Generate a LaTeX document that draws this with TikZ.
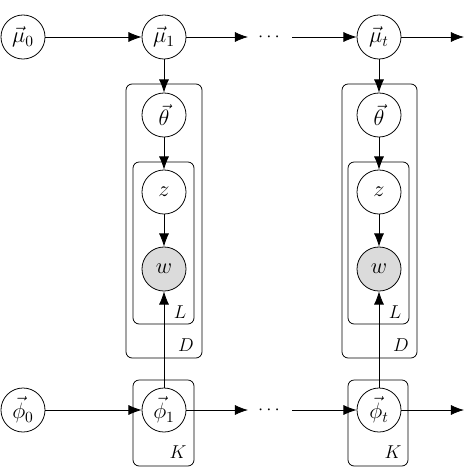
\documentclass[tikz,border=0pt]{standalone}
\usetikzlibrary{arrows.meta}
\begin{document}
\begin{tikzpicture}[x=0.645pt,y=-0.645pt,
  var/.style={circle,draw,line width=0.5pt,minimum size=28.4pt,inner sep=0pt,font=\Large},
  obs/.style={var,fill=black!14},
  edge/.style={line width=0.5pt,-{Latex[length=8.5pt,width=6.5pt]}},
  plate/.style={draw,line width=0.5pt,rounded corners=4pt},
  lbl/.style={inner sep=0pt,font=\large}]
\useasboundingbox (0,0) rectangle (474,474);
% plates
\draw[plate] (126,84) rectangle (202,358);
\draw[plate] (133,162) rectangle (194,324);
\draw[plate] (133,380) rectangle (194,466);
\draw[plate] (342,84) rectangle (417,358);
\draw[plate] (348,162) rectangle (409,324);
\draw[plate] (348,380) rectangle (408,466);
\node[lbl] (L1) at (180,312) {$L$};
\node[lbl] (D1) at (186,345) {$D$};
\node[lbl] (K1) at (178,452) {$K$};
\node[lbl] (L2) at (395,312) {$L$};
\node[lbl] (D2) at (401,345) {$D$};
\node[lbl] (K2) at (393,452) {$K$};
% nodes
\node[var] (mu0) at (23,37) {$\vec{\mu}_0$};
\node[var] (mu1) at (164,37) {$\vec{\mu}_1$};
\node[var] (mut) at (379,37) {$\vec{\mu}_t$};
\node[var] (th1) at (164,115) {$\vec{\theta}$};
\node[var] (z1) at (164,192) {$z$};
\node[obs] (w1) at (164,269) {$w$};
\node[var] (tht) at (379,115) {$\vec{\theta}$};
\node[var] (zt) at (379,192) {$z$};
\node[obs] (wt) at (379,269) {$w$};
\node[var] (phi0) at (23,410) {$\vec{\phi}_0$};
\node[var] (phi1) at (164,410) {$\vec{\phi}_1$};
\node[var] (phit) at (379,410) {$\vec{\phi}_t$};
\node[lbl] (dots1) at (269,37) {$\cdots$};
\node[lbl] (dots2) at (269,410) {$\cdots$};
\coordinate (a1) at (248,37);
\coordinate (b1) at (292,37);
\coordinate (c1) at (464,37);
\coordinate (a2) at (248,410);
\coordinate (b2) at (292,410);
\coordinate (c2) at (464,410);
% edges
\draw[edge] (mu0) -- (mu1);
\draw[edge] (mu1) -- (a1);
\draw[edge] (b1) -- (mut);
\draw[edge] (mut) -- (c1);
\draw[edge] (phi0) -- (phi1);
\draw[edge] (phi1) -- (a2);
\draw[edge] (b2) -- (phit);
\draw[edge] (phit) -- (c2);
\draw[edge] (mu1) -- (th1);
\draw[edge] (th1) -- (z1);
\draw[edge] (z1) -- (w1);
\draw[edge] (phi1) -- (w1);
\draw[edge] (mut) -- (tht);
\draw[edge] (tht) -- (zt);
\draw[edge] (zt) -- (wt);
\draw[edge] (phit) -- (wt);
\end{tikzpicture}
\end{document}
